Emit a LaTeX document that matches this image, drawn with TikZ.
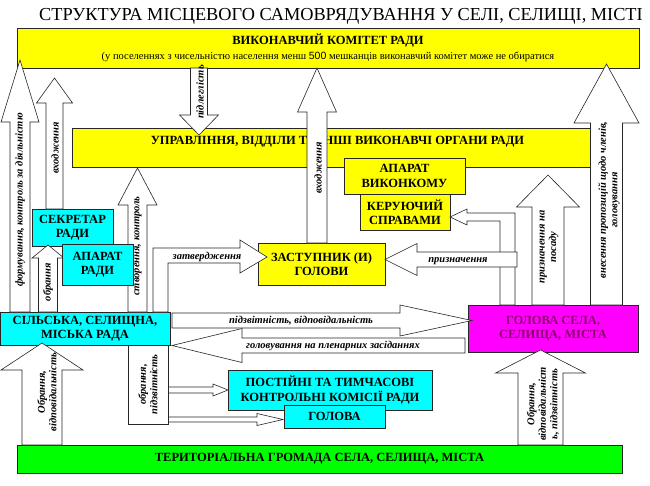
\documentclass[tikz,border=0pt]{standalone}
\usepackage{fontspec}
\setmainfont{Liberation Serif}
\setsansfont{Liberation Sans}
\newfontfamily\timesfont{Liberation Serif}

\definecolor{boxyellow}{RGB}{255,255,0}
\definecolor{boxcyan}{RGB}{0,255,255}
\definecolor{boxmagenta}{RGB}{255,0,255}
\definecolor{boxgreen}{RGB}{0,255,0}
\definecolor{holtext}{RGB}{140,0,110}

\newcommand{\titlefont}{\timesfont\fontsize{18.3}{20}\selectfont}
\newcommand{\boxfont}{\timesfont\fontsize{12.5}{14.5}\selectfont\bfseries}
\newcommand{\notefont}{\timesfont\fontsize{10.5}{12}\selectfont\mdseries}
\newcommand{\lblfont}{\timesfont\fontsize{10.5}{11.5}\selectfont\bfseries\itshape}

% block arrow, vertical: x, y of foot, y of tip, half shaft, half head, head length
\newcommand{\blkup}[6]{%
  \draw[blk] ({#1-#4},#2) -- ({#1-#4},{#3+(#6)}) -- ({#1-#5},{#3+(#6)}) -- (#1,#3)
    -- ({#1+#5},{#3+(#6)}) -- ({#1+#4},{#3+(#6)}) -- ({#1+#4},#2) -- cycle;}
% block arrow, horizontal: y, x of foot, x of tip, half shaft, half head, head length
\newcommand{\blkright}[6]{%
  \draw[blk] (#2,{#1-#4}) -- ({#3-(#6)},{#1-#4}) -- ({#3-(#6)},{#1-#5}) -- (#3,#1)
    -- ({#3-(#6)},{#1+#5}) -- ({#3-(#6)},{#1+#4}) -- (#2,{#1+#4}) -- cycle;}

\tikzset{
  box/.style={draw=black!85, line width=0.6pt, font=\boxfont, align=center, inner sep=0pt},
  ybox/.style={box, fill=boxyellow},
  cbox/.style={box, fill=boxcyan},
  blk/.style={draw=black!85, fill=white, line width=0.6pt},
  lbl/.style={font=\lblfont, align=center, inner sep=0pt, rotate=90},
  hlbl/.style={font=\lblfont, inner sep=0pt},
}

\begin{document}
\begin{tikzpicture}[x=1pt, y=-1pt]
    \useasboundingbox (0,0) rectangle (650,485);

    \node[font=\titlefont] (title) at (341,16) {СТРУКТУРА МІСЦЕВОГО САМОВРЯДУВАННЯ У СЕЛІ, СЕЛИЩІ, МІСТІ};

    % boxes
    \node[ybox, minimum width=622pt, minimum height=40pt] (vykom) at (328,48)
        {ВИКОНАВЧИЙ КОМІТЕТ РАДИ\\{\notefont (у поселеннях з чисельністю населення менш {\sffamily 500} мешканців виконавчий комітет може не обиратися}};
    \node[ybox, minimum width=531pt, minimum height=39pt, text height=8pt, text depth=14pt] (upr) at (337.5,147.5)
        {УПРАВЛІННЯ, ВІДДІЛИ ТА ІНШІ ВИКОНАВЧІ ОРГАНИ РАДИ};
    \node[ybox, minimum width=121pt, minimum height=36pt] (apvk) at (404.5,176) {АПАРАТ\\ВИКОНКОМУ};
    \node[ybox, minimum width=90pt, minimum height=36pt] (kersp) at (405,212) {КЕРУЮЧИЙ\\СПРАВАМИ};
    \node[ybox, minimum width=127pt, minimum height=42pt] (zast) at (321.5,264) {ЗАСТУПНИК (И)\\ГОЛОВИ};
    \node[cbox, minimum width=81pt, minimum height=37pt] (sekr) at (72.5,227.5) {СЕКРЕТАР\\РАДИ};
    \node[cbox, minimum width=170pt, minimum height=33pt] (rada) at (85,328.5) {СІЛЬСЬКА, СЕЛИЩНА,\\МІСЬКА РАДА};
    \node[box, fill=boxmagenta, text=holtext, minimum width=170pt, minimum height=47pt] (golova) at (553,328.5)
        {ГОЛОВА СЕЛА,\\СЕЛИЩА, МІСТА};
    \node[cbox, minimum width=204pt, minimum height=40pt] (komisii) at (330,390)
        {ПОСТІЙНІ ТА ТИМЧАСОВІ\\КОНТРОЛЬНІ КОМІСІЇ РАДИ};
    \node[cbox, minimum width=101pt, minimum height=23pt] (golkom) at (334.5,416.5) {ГОЛОВА};
    \node[box, fill=boxgreen, minimum width=605pt, minimum height=28pt] (hromada) at (319.5,459)
        {ТЕРИТОРІАЛЬНА ГРОМАДА СЕЛА, СЕЛИЩА, МІСТА};

    % vertical block arrows
    \blkup{20}{312}{60}{10}{19}{62}
    \blkup{54.5}{209}{78}{8.5}{18}{25}
    \blkup{48}{312}{245}{9.5}{16}{13}
    \blkup{137.5}{312}{168}{9.5}{19.5}{37}
    \blkup{199}{68}{135}{8.5}{19.5}{-20}
    \blkup{317}{243}{68}{10}{19.5}{44}
    \blkup{548}{305}{175}{16}{31.5}{32}
    \blkup{606.5}{305}{64}{16}{32.5}{59}
    \blkup{42}{445}{343}{20}{41}{27}
    \blkup{540.5}{445}{350}{22.5}{45}{23}

    % horizontal block arrows
    \draw[blk] (153,312) -- (153,248) -- (240,248) -- (240,240) -- (267,257) -- (240,273)
        -- (240,263) -- (168,263) -- (168,312) -- cycle;
    \draw[blk] (515,305) -- (515,213) -- (467,213) -- (467,209) -- (450,217) -- (467,225)
        -- (467,221) -- (500,221) -- (500,305) -- cycle;
    \blkright{259.5}{517}{385}{7.5}{16}{-32}
    \blkright{320.5}{172}{472}{7.5}{15.5}{72}
    \blkright{345.5}{465}{172}{7.5}{17}{-70}
    \blkright{390}{168}{228}{3}{6}{15}
    \blkright{419.5}{168}{283}{2.5}{6}{26}
    \node[lbl, blk, minimum width=79pt, minimum height=40pt] (obrpid) at (148,384.5) {обрання,\\підзвітність};

    \node[cbox, minimum width=71pt, minimum height=41pt] (aprad) at (97.5,264.5) {АПАРАТ\\РАДИ};

    % labels
    \node[lbl] (lform) at (20,200) {формування, контроль за діяльністю};
    \node[lbl] (lvkh) at (55,148) {входження};
    \node[lbl] (lobr) at (48,282) {обрання};
    \node[lbl] (lstv) at (138,246) {створення, контроль};
    \node[lbl] (lpidl) at (200,92) {підлеглість};
    \node[lbl] (lvkhd) at (318,168) {входження};
    \node[lbl] (lpos) at (549,247) {призначення на\\посаду};
    \node[lbl] (lvnes) at (609,200) {внесення пропозицій щодо членів,\\головування};
    \node[lbl] (lobrl) at (47,392) {Обрання,\\відповідальність};
    \node[lbl] (lobrr) at (543,404) {Обрання,\\відповідальніст\\ь, підзвітність};
    \node[hlbl] (lzat) at (207,257) {затвердження};
    \node[hlbl] (lpryz) at (458,261) {призначення};
    \node[hlbl] (lpidz) at (301,321) {підзвітність, відповідальність};
    \node[hlbl] (lgol) at (333,345.5) {головування на пленарних засіданнях};
\end{tikzpicture}
\end{document}
